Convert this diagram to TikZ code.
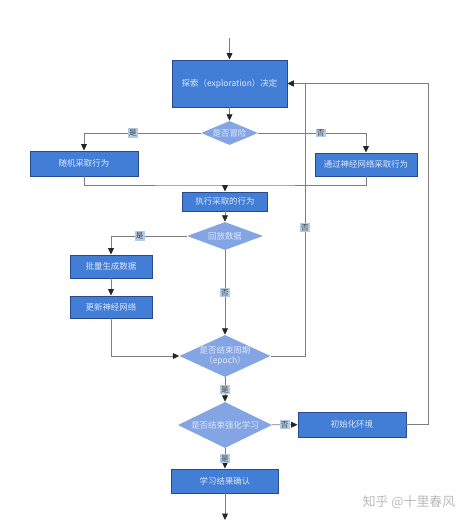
\documentclass[tikz,border=0pt]{standalone}
\usepackage{fontspec}
\setmainfont{Noto Sans CJK SC}
\usetikzlibrary{shapes.geometric, arrows.meta, positioning}
\definecolor{boxblue}{RGB}{66,126,214}
\definecolor{boxedge}{RGB}{40,74,140}
\definecolor{diablue}{RGB}{132,165,228}
\definecolor{paletext}{RGB}{222,232,247}
\definecolor{tagblue}{RGB}{178,204,232}
\definecolor{linegray}{RGB}{125,125,125}

\tikzset{
    stepbox/.style={rectangle, draw=boxedge, line width=0.8pt, fill=boxblue, text=paletext,
        font=\fontsize{7.2}{8.6}\selectfont, inner sep=0pt},
    choice/.style={diamond, fill=diablue, text=paletext, font=\fontsize{7.2}{8.6}\selectfont,
        inner sep=0pt, shape aspect=2.4},
    tag/.style={fill=tagblue, text=black!75, font=\fontsize{6.5}{7}\selectfont, inner sep=1pt},
    link/.style={draw=linegray, line width=0.7pt},
    flow/.style={link, -{Triangle[width=5pt, length=5.5pt, color=black!85]}}
}

\begin{document}
\begin{tikzpicture}[x=0.03cm, y=-0.03cm]
    \useasboundingbox (0,0) rectangle (474,523);

    % Boxes
    \node[stepbox, minimum width=3.45cm, minimum height=1.41cm] (explore) at (229.5,83.5) {探索（exploration）决定};
    \node[stepbox, minimum width=3.24cm, minimum height=0.75cm] (randact) at (84,163.5) {随机采取行为};
    \node[stepbox, minimum width=3.06cm, minimum height=0.69cm] (netact) at (366,164.5) {通过神经网络采取行为};
    \node[stepbox, minimum width=2.55cm, minimum height=0.57cm] (doact) at (225,201.5) {执行采取的行为};
    \node[stepbox, minimum width=2.46cm, minimum height=0.69cm] (batch) at (111,266.5) {批量生成数据};
    \node[stepbox, minimum width=2.46cm, minimum height=0.66cm] (update) at (111,307) {更新神经网络};
    \node[stepbox, minimum width=3.24cm, minimum height=0.75cm] (reset) at (352,424.5) {初始化环境};
    \node[stepbox, minimum width=3.21cm, minimum height=0.72cm] (result) at (225,481) {学习结果确认};

    % Decisions
    \node[choice, minimum width=1.71cm, minimum height=0.72cm] (risk) at (229.5,133) {是否冒险};
    \node[choice, minimum width=2.28cm, minimum height=0.84cm] (replay) at (225,236) {回放数据};
    \node[choice, minimum width=2.73cm, minimum height=1.26cm, inner xsep=-10pt, align=center] (epoch) at (225,356) {是否结束周期\\（epoch）};
    \node[choice, minimum width=2.82cm, minimum height=1.38cm] (finish) at (225,425) {是否结束强化学习};

    % Free ends
    \coordinate (top) at (229.5,38);
    \coordinate (join) at (225,185);
    \coordinate (loopin) at (305,83.5);
    \coordinate (loopout) at (428,83.5);
    \coordinate (bottom) at (225,520);

    % Connectors
    \draw[flow] (top) -- (explore);
    \draw[flow] (explore) -- (risk);
    \draw[flow] (risk.west) -| node[tag, pos=0.29] {是} (randact.north);
    \draw[flow] (risk.east) -| node[tag, pos=0.29] {否} (netact.north);
    \draw[link] (randact.south) |- (join) -| (netact.south);
    \draw[flow] (join) -- (doact);
    \draw[flow] (doact) -- (replay);
    \draw[flow] (replay.west) -| node[tag, pos=0.31] {是} (batch.north);
    \draw[flow] (batch) -- (update);
    \draw[flow] (update.south) |- (epoch.west);
    \draw[flow] (replay) -- node[tag] {否} (epoch);
    \draw[flow] (epoch.east) -| node[tag, pos=0.735] {否} (loopin) -- (explore.east);
    \draw[flow] (epoch) -- node[tag] {是} (finish);
    \draw[flow] (finish) -- node[tag] {否} (reset);
    \draw[flow] (reset.east) -| (loopout) -- (explore.east);
    \draw[flow] (finish) -- node[tag] {是} (result);
    \draw[flow] (result) -- (bottom);

    % Watermark
    \node[text=gray!55, font=\fontsize{11}{13}\selectfont] (mark) at (409,502) {知乎 @十里春风};
\end{tikzpicture}
\end{document}
